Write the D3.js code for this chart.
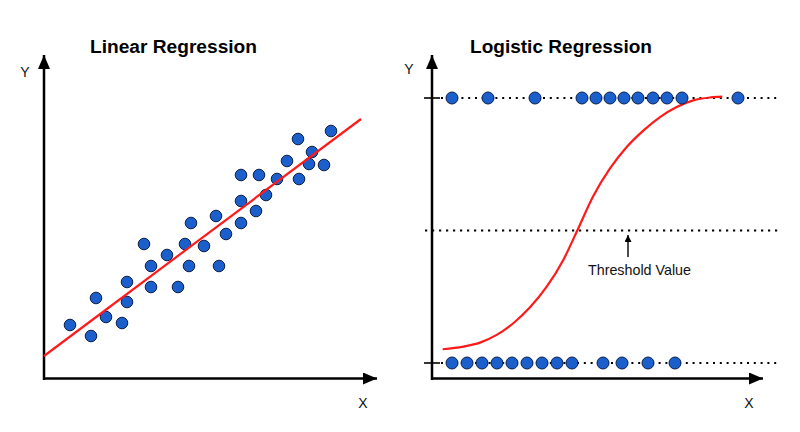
<!DOCTYPE html>
<html>
<head>
<meta charset="utf-8">
<script src="https://cdn.jsdelivr.net/npm/d3@7"></script>
<style>
  html, body { margin: 0; padding: 0; background: #fff; }
  svg { display: block; }
</style>
</head>
<body>
<svg id="chart" width="800" height="432"></svg>
<script>
// ---------- data ----------
const titles = ["Linear Regression", "Logistic Regression"];
const axisLabels = ["X", "Y"];
const thresholdLabel = "Threshold Value";

// Linear regression scatter (x, y in arbitrary units)
const linX = [2.6, 4.7, 5.2, 6.2, 7.8, 8.3, 8.3, 10.0, 10.7, 10.7, 12.3, 13.4, 14.1, 14.5, 14.7, 16.0, 17.2,
              17.5, 18.2, 19.7, 19.7, 19.7, 21.2, 21.5, 22.2, 23.3, 24.3, 25.4, 25.5, 26.8, 26.5, 28.0, 28.7];
const linY = [5.3, 4.2, 8.0, 6.1, 5.5, 7.6, 9.6, 13.4, 11.2, 9.1, 12.3, 9.1, 13.4, 11.2, 15.5, 13.2, 16.2,
              11.2, 14.4, 20.3, 17.7, 15.5, 16.7, 20.3, 18.3, 19.9, 21.7, 23.9, 19.9, 22.6, 21.4, 21.3, 24.7];
const fitLineX = [0, 31.7];
const fitLineY = [2.2, 25.9];

// Logistic regression: class 1 (top) and class 0 (bottom) observations
const classOneX = [2.0, 5.6, 10.3, 15.0, 16.4, 17.8, 19.2, 20.6, 22.1, 23.5, 25.0, 30.6];
const classZeroX = [2.0, 3.5, 5.0, 6.5, 8.0, 9.5, 11.0, 12.5, 14.0, 17.1, 19.0, 21.6, 24.3];
const classValues = [0, 1];
const thresholdValue = 0.5;
// Sigmoid curve
const curveX = [1.07, 3.13, 4.8, 6.47, 8.13, 9.8, 11.47, 13.13, 14.47, 16.13, 17.8, 19.47, 21.13, 22.8, 24.47, 26.13, 27.8, 29.03];
const curveY = [0.052, 0.062, 0.077, 0.106, 0.150, 0.210, 0.288, 0.389, 0.495, 0.630, 0.734, 0.815, 0.877, 0.928, 0.966, 0.991, 1.002, 1.005];

// ---------- drawing ----------
const svg = d3.select("#chart");
const font = "'Liberation Sans', Arial, Helvetica, sans-serif";
const dotFill = "#1a5fcc", dotStroke = "#0b1f4d", red = "#ff1a1a";

const defs = svg.append("defs");
defs.append("marker")
  .attr("id", "arrow").attr("viewBox", "0 0 14 12")
  .attr("refX", 14).attr("refY", 6)
  .attr("markerWidth", 14).attr("markerHeight", 12)
  .attr("markerUnits", "userSpaceOnUse")
  .attr("orient", "auto")
  .append("path").attr("d", "M0,0 L14,6 L0,12 Z").attr("fill", "#000");

// Left panel scales
const xL = d3.scaleLinear().domain([0, 33.4]).range([44, 378]);
const yL = d3.scaleLinear().domain([0, 32.3]).range([378, 55]);
// Right panel scales
const xR = d3.scaleLinear().domain([0, 33.1]).range([432, 763]);
const yR = d3.scaleLinear().domain([0, 1]).range([363, 98]);

function drawAxes(g, x, y, xMax, yTop, yLabelPos, xLabelPos) {
  const x0 = x(0);
  g.append("line")
    .attr("x1", x0).attr("y1", 380).attr("x2", x0).attr("y2", yTop)
    .attr("stroke", "#000").attr("stroke-width", 2.5).attr("marker-end", "url(#arrow)");
  g.append("line")
    .attr("x1", x0 - 1).attr("y1", 378.5).attr("x2", xMax).attr("y2", 378.5)
    .attr("stroke", "#000").attr("stroke-width", 2.5).attr("marker-end", "url(#arrow)");
  g.append("text").attr("x", yLabelPos[0]).attr("y", yLabelPos[1])
    .attr("text-anchor", "middle").attr("font-family", font).attr("font-size", 14).attr("fill", "#111")
    .text(axisLabels[1]);
  g.append("text").attr("x", xLabelPos[0]).attr("y", xLabelPos[1])
    .attr("text-anchor", "middle").attr("font-family", font).attr("font-size", 14).attr("fill", "#111")
    .text(axisLabels[0]);
}

// ----- Left: linear regression -----
const gL = svg.append("g");
drawAxes(gL, xL, yL, 377, 55, [25, 77], [363, 408]);
gL.append("text").attr("x", 173.5).attr("y", 53)
  .attr("text-anchor", "middle").attr("font-family", font).attr("font-weight", "bold")
  .attr("font-size", 18).attr("textLength", 167).attr("lengthAdjust", "spacingAndGlyphs")
  .text(titles[0]);

const linPts = linX.map((d, i) => ({ x: d, y: linY[i] }));
gL.selectAll("circle.pt").data(linPts).enter().append("circle")
  .attr("class", "pt")
  .attr("cx", d => xL(d.x)).attr("cy", d => yL(d.y)).attr("r", 5.8)
  .attr("fill", dotFill).attr("stroke", dotStroke).attr("stroke-width", 1);

gL.append("line")
  .attr("x1", xL(fitLineX[0])).attr("y1", yL(fitLineY[0]))
  .attr("x2", xL(fitLineX[1])).attr("y2", yL(fitLineY[1]))
  .attr("stroke", red).attr("stroke-width", 2.2);

// ----- Right: logistic regression -----
const gR = svg.append("g");
gR.append("text").attr("x", 561).attr("y", 53)
  .attr("text-anchor", "middle").attr("font-family", font).attr("font-weight", "bold")
  .attr("font-size", 18).attr("textLength", 182).attr("lengthAdjust", "spacingAndGlyphs")
  .text(titles[1]);

// class reference lines (tick + dotted)
classValues.forEach(v => {
  gR.append("line")
    .attr("x1", xR(-0.8)).attr("x2", xR(0.8)).attr("y1", yR(v)).attr("y2", yR(v))
    .attr("stroke", "#000").attr("stroke-width", 1.6);
  gR.append("line")
    .attr("x1", xR(0.9)).attr("x2", xR(34.8)).attr("y1", yR(v)).attr("y2", yR(v))
    .attr("stroke", "#000").attr("stroke-width", 2).attr("stroke-dasharray", "2 4.8");
});
// threshold line
gR.append("line")
  .attr("x1", xR(-0.7)).attr("x2", xR(34.6)).attr("y1", yR(thresholdValue)).attr("y2", yR(thresholdValue))
  .attr("stroke", "#000").attr("stroke-width", 2.2).attr("stroke-dasharray", "2.2 4.8");

drawAxes(gR, xR, yR, 763, 55, [409, 73.5], [749, 407.5]);

// sigmoid curve
const curvePts = curveX.map((d, i) => ({ x: d, y: curveY[i] }));
gR.append("path").datum(curvePts)
  .attr("d", d3.line().x(d => xR(d.x)).y(d => yR(d.y)).curve(d3.curveMonotoneX))
  .attr("fill", "none").attr("stroke", red).attr("stroke-width", 2.2);

// points
const ptsR = classOneX.map(x => ({ x: x, y: 1 })).concat(classZeroX.map(x => ({ x: x, y: 0 })));
gR.selectAll("circle.pt").data(ptsR).enter().append("circle")
  .attr("class", "pt")
  .attr("cx", d => xR(d.x)).attr("cy", d => yR(d.y)).attr("r", 6)
  .attr("fill", dotFill).attr("stroke", dotStroke).attr("stroke-width", 1);

// threshold annotation
const arrowX = xR(19.6);
const smallArrow = defs.append("marker")
  .attr("id", "arrowSmall").attr("viewBox", "0 0 8 8")
  .attr("refX", 8).attr("refY", 4)
  .attr("markerWidth", 8).attr("markerHeight", 7)
  .attr("markerUnits", "userSpaceOnUse").attr("orient", "auto");
smallArrow.append("path").attr("d", "M0,0 L8,4 L0,8 Z").attr("fill", "#000");
gR.append("line")
  .attr("x1", arrowX).attr("x2", arrowX).attr("y1", yR(0.40)).attr("y2", yR(0.483))
  .attr("stroke", "#000").attr("stroke-width", 1.4).attr("marker-end", "url(#arrowSmall)");
gR.append("text").attr("x", 639.5).attr("y", 275)
  .attr("text-anchor", "middle").attr("font-family", font).attr("font-size", 14.3).attr("fill", "#111")
  .text(thresholdLabel);
</script>
</body>
</html>
